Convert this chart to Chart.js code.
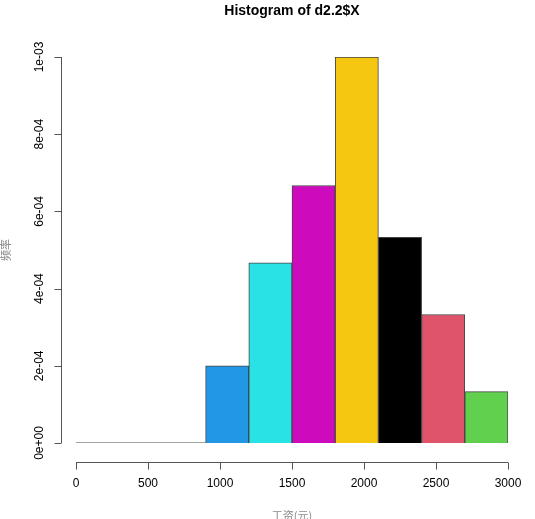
<!DOCTYPE html>
<html><head><meta charset="utf-8">
<script src="https://cdn.jsdelivr.net/npm/chart.js@4"></script>
<style>html,body{margin:0;background:#fff}#c{display:block}</style>
</head><body>
<div style="width:535px;height:519px"><canvas id="c"></canvas></div>
<script>
const binStarts = [900, 1200, 1500, 1800, 2100, 2400, 2700];
const density = [0.0002, 0.000467, 0.000667, 0.001, 0.000533, 0.000333, 0.000133];
const barColors = ['#2297E6', '#28E2E5', '#CD0BBC', '#F5C710', '#000000', '#DF536B', '#61D04F'];
const emptyRange = [0, 900];
const xTicks = [0, 500, 1000, 1500, 2000, 2500, 3000];
const yTicks = [0, 0.0002, 0.0004, 0.0006, 0.0008, 0.001];
const yTickLabels = ['0e+00', '2e-04', '4e-04', '6e-04', '8e-04', '1e-03'];
const BIN = 300;

const rAxes = {
    id: 'rAxes',
    afterDraw(chart) {
        const ctx = chart.ctx, xs = chart.scales.x, ys = chart.scales.y;
        ctx.save();
        ctx.strokeStyle = '#555'; ctx.lineWidth = 1; ctx.fillStyle = '#000';
        ctx.font = '12px Arial, "Liberation Sans"';
        // x axis
        const ay = 462.5;
        ctx.beginPath();
        ctx.moveTo(xs.getPixelForValue(xTicks[0]), ay);
        ctx.lineTo(xs.getPixelForValue(xTicks[xTicks.length - 1]), ay);
        xTicks.forEach(t => { const p = Math.round(xs.getPixelForValue(t)) + 0.5; ctx.moveTo(p, ay); ctx.lineTo(p, ay + 7); });
        ctx.stroke();
        ctx.textAlign = 'center'; ctx.textBaseline = 'middle';
        xTicks.forEach(t => ctx.fillText(String(t), xs.getPixelForValue(t), 484));
        // y axis
        const ax = 61.5;
        ctx.beginPath();
        ctx.moveTo(ax, ys.getPixelForValue(yTicks[0]));
        ctx.lineTo(ax, ys.getPixelForValue(yTicks[yTicks.length - 1]));
        yTicks.forEach(t => { const p = Math.round(ys.getPixelForValue(t)) + 0.5; ctx.moveTo(ax, p); ctx.lineTo(ax - 7, p); });
        ctx.stroke();
        yTicks.forEach((t, i) => {
            ctx.save(); ctx.translate(40, ys.getPixelForValue(t)); ctx.rotate(-Math.PI / 2);
            ctx.fillText(yTickLabels[i], 0, 0); ctx.restore();
        });
        // titles
        ctx.font = 'bold 14px Arial, "Liberation Sans"';
        ctx.fillText('Histogram of d2.2$X', 292, 11);
        ctx.fillStyle = '#888'; ctx.font = '11px "Noto Sans CJK SC"';
        ctx.fillText('工资(元)', 292, 516);
        ctx.save(); ctx.translate(6, 250); ctx.rotate(-Math.PI / 2); ctx.fillText('频率', 0, 0); ctx.restore();
        ctx.restore();
    }
};

new Chart(document.getElementById('c'), {
    type: 'bar',
    data: {
        datasets: [{
            type: 'bar',
            data: binStarts.map((s, i) => ({ x: s + BIN / 2, y: density[i] })),
            backgroundColor: barColors,
            borderColor: '#444',
            borderWidth: 1,
            barPercentage: 1,
            categoryPercentage: 1
        }, {
            type: 'line',
            data: emptyRange.map(v => ({ x: v, y: 0 })),
            borderColor: '#444',
            borderWidth: 1,
            pointRadius: 0
        }]
    },
    plugins: [rAxes],
    options: {
        responsive: true,
        maintainAspectRatio: false,
        animation: false,
        layout: { padding: { left: 76, right: 27, top: 57, bottom: 76 } },
        plugins: { legend: { display: false }, tooltip: { enabled: false } },
        scales: {
            x: { type: 'linear', min: 0, max: 3000, display: false, offset: false },
            y: { min: 0, max: 0.001, display: false }
        }
    }
});
</script>
</body></html>
